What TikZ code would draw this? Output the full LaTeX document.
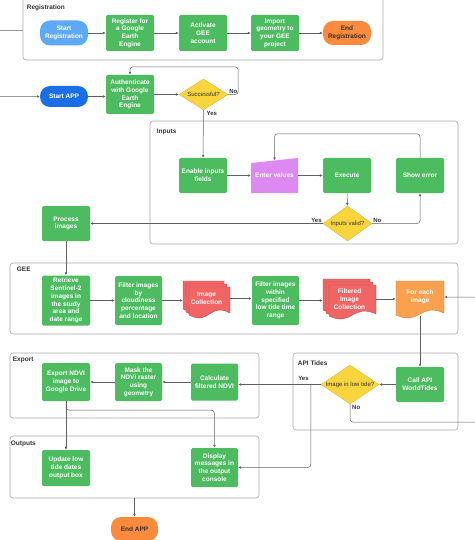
\documentclass[tikz,border=0pt]{standalone}
\usepackage{fontspec}
\setmainfont{Liberation Sans}
\usetikzlibrary{shapes.geometric, arrows.meta, positioning, calc}

\definecolor{boxgreen}{HTML}{4DBB5F}
\definecolor{startblue}{HTML}{5EA9F6}
\definecolor{appblue}{HTML}{1A6FE4}
\definecolor{endorange}{HTML}{FB8B3C}
\definecolor{docorange}{HTML}{F9A14F}
\definecolor{collred}{HTML}{F16565}
\definecolor{inputpurple}{HTML}{DC8AF2}
\definecolor{decyellow}{HTML}{F9D53D}
\definecolor{framegray}{HTML}{ABABAB}
\definecolor{linegray}{HTML}{606060}
\definecolor{labelgray}{HTML}{333333}

% document shape with a wavy bottom edge
\newcommand{\docshape}[5]{%
  \filldraw[#1] ({#2},{#3}) -- ({#4},{#3}) -- ({#4},{#5-5})
    .. controls ({(#2+#4)/2},{#5-16}) and ({(#2+#4)/2},{#5+8}) .. ({#2},{#5-3}) -- cycle;}
% three stacked documents
\newcommand{\stackdoc}[5]{%
  \docshape{#1}{#2}{#3}{#4-6}{#5-6}
  \docshape{#1}{#2+3}{#3+3}{#4-3}{#5-3}
  \docshape{#1}{#2+6}{#3+6}{#4}{#5}}

\begin{document}
\begin{tikzpicture}[
    x=1pt, y=-1pt,
    % Define node styles
    panel/.style={
        rectangle,
        draw=framegray,
        fill=white,
        rounded corners=3pt,
        line width=0.6pt
    },
    frametitle/.style={
        font=\fontsize{6.5}{7.5}\selectfont\bfseries,
        text=labelgray,
        inner sep=0pt,
        anchor=north west
    },
    process/.style={
        rectangle,
        fill=boxgreen,
        rounded corners=1.5pt,
        text=white,
        font=\fontsize{6.5}{7.7}\selectfont\bfseries,
        align=center,
        minimum width=48pt,
        minimum height=36pt,
        inner sep=0pt
    },
    terminal/.style={
        process,
        rounded corners=10pt,
        minimum height=24pt
    },
    decision/.style={
        diamond,
        aspect=1.5,
        fill=decyellow,
        draw=decyellow!85!black,
        line width=0.3pt,
        text=labelgray,
        font=\fontsize{6}{7}\selectfont,
        inner sep=0pt
    },
    collection/.style={fill=collred, draw=collred!75!black, line width=0.4pt},
    foreachdoc/.style={fill=docorange, draw=docorange!80!black, line width=0.4pt},
    lbl/.style={font=\fontsize{6}{7}\selectfont\bfseries, text=labelgray, inner sep=1pt},
    flow/.style={draw=linegray, line width=0.5pt, rounded corners=3pt,
        -{Latex[length=3pt,width=2.6pt]}},
    flowthick/.style={flow, line width=1pt}
]
    \useasboundingbox (0,0) rectangle (474,540);

    % Registration
    \node[panel, minimum width=360pt, minimum height=63pt] (reg) at (203,28.5) {};
    \node[frametitle] (tReg) at ([shift={(4,8)}]reg.north west) {Registration};
    \node[terminal, fill=startblue, minimum height=25pt] (startreg) at (64,33) {Start\\Registration};
    \node[process] (register) at (130,33) {Register for\\a Google\\Earth\\Engine};
    \node[process] (activate) at (203,33) {Activate\\GEE\\account};
    \node[process] (importgeo) at (275,33) {Import\\geometry to\\your GEE\\project};
    \node[terminal, fill=endorange, text=labelgray] (endreg) at (347,33) {End\\Registration};

    % Authentication
    \node[terminal, fill=appblue, minimum height=21pt] (startapp) at (64,96.5) {Start APP};
    \node[process, minimum height=39pt] (auth) at (130,94.5) {Authenticate\\with Google\\Earth\\Engine};
    \node[decision, minimum width=49pt, minimum height=31pt,
        label={[lbl, anchor=south west]east:No},
        label={[lbl, anchor=north west, xshift=2pt]south:Yes}] (succ) at (203.5,94.5) {Successful?};

    % Inputs
    \node[panel, minimum width=308pt, minimum height=123pt] (inputs) at (304,182.5) {};
    \node[frametitle] (tInputs) at ([shift={(7,8)}]inputs.north west) {Inputs};
    \node[process, minimum height=35pt] (enable) at (203,175.5) {Enable inputs\\fields};
    \fill[inputpurple] (251,163) -- (298,158) -- (298,193) -- (251,193) -- cycle;
    \node[process, fill=none, minimum width=47pt, minimum height=35pt] (enter) at (274.5,175.5) {Enter values};
    \node[process, minimum height=35pt] (exec) at (347,175.5) {Execute};
    \node[process, minimum height=35pt] (showerr) at (420,175.5) {Show error};
    \node[decision, minimum width=49pt, minimum height=35pt,
        label={[lbl, anchor=south east]west:Yes},
        label={[lbl, anchor=south west]east:No}] (valid) at (347.5,223.5) {Inputs valid?};
    \node[process, minimum height=35pt] (procimg) at (66,223.5) {Process\\images};

    % GEE
    \node[panel, minimum width=448pt, minimum height=71pt] (gee) at (234,298.5) {};
    \node[frametitle] (tGee) at ([shift={(7,4)}]gee.north west) {GEE};
    \node[process, minimum height=50pt] (retrieve) at (66,300.5) {Retrieve\\Sentinel-2\\images in\\the study\\area and\\date range};
    \node[process, minimum width=47pt, minimum height=49pt] (filtcloud) at (138.5,300.5) {Filter images\\by\\cloudiness\\percentage\\and location};
    \stackdoc{collection}{183}{281}{230}{318}
    \node[process, fill=none, minimum width=47pt, minimum height=37pt] (imgcoll) at (206.5,298.5) {Image\\Collection};
    \node[process, minimum width=47pt, minimum height=49pt] (filttide) at (275.5,300.5) {Filter images\\within\\specified\\low tide time\\range};
    \stackdoc{collection}{323}{279}{376}{319}
    \node[process, fill=none, minimum width=53pt, minimum height=40pt] (filtcoll) at (349.5,299) {Filtered\\Image\\Collection};
    \docshape{foreachdoc}{396}{281}{444}{318}
    \node[process, fill=none, minimum height=37pt] (foreach) at (420,297) {For each\\image};

    % API Tides
    \node[panel, minimum width=165pt, minimum height=77pt] (api) at (375.5,391.5) {};
    \node[frametitle] (tApi) at ([shift={(5,8)}]api.north west) {API Tides};
    \node[process, minimum height=35pt] (callapi) at (420,384.5) {Call API\\WorldTides};
    \node[decision, minimum width=58pt, minimum height=39pt,
        label={[lbl, anchor=south east, xshift=-11pt, yshift=3pt]west:Yes},
        label={[lbl, anchor=north west, xshift=1pt]south:No}] (lowtide) at (350,384.5) {Image in low tide?};

    % Export
    \node[panel, minimum width=249pt, minimum height=65pt] (export) at (134.5,385.5) {};
    \node[frametitle] (tExport) at ([shift={(3,4)}]export.north west) {Export};
    \node[process, minimum height=38pt] (exportndvi) at (66,382) {Export NDVI\\image to\\Google Drive};
    \node[process, minimum width=47pt, minimum height=38pt] (mask) at (138.5,382) {Mask the\\NDVI raster\\using\\geometry};
    \node[process, minimum width=47pt, minimum height=37pt] (calc) at (214.5,382) {Calculate\\filtered NDVI};

    % Outputs
    \node[panel, minimum width=249pt, minimum height=62pt] (outputs) at (134.5,467) {};
    \node[frametitle] (tOutputs) at ([shift={(1,5)}]outputs.north west) {Outputs};
    \node[process, minimum height=36pt] (update) at (66,468) {Update low\\tide dates\\output box};
    \node[process, minimum width=47pt, minimum height=39pt] (display) at (214.5,467.5) {Display\\messages in\\the output\\console};
    \node[terminal, fill=endorange, text=labelgray, minimum width=47pt] (endapp) at (134.5,529) {End APP};

    % Registration flow
    \draw[flow] (startreg) -- (register);
    \draw[flow] (register) -- (activate);
    \draw[flow] (activate) -- (importgeo);
    \draw[flow] (importgeo) -- (endreg);
    \draw[flow] ([yshift=-2pt]reg.west) -- ++(-30,0) |- (startapp.west);

    % Authentication flow
    \draw[flow] (startapp) -- (startapp -| auth.west);
    \draw[flow] (auth) -- (succ);
    \draw[flow] (succ.east) -- ++(10,0) |- ([yshift=8pt]auth.north) -- (auth.north);
    \draw[flow] (succ) -- (enable);

    % Inputs flow
    \draw[flow] (enable) -- (enter);
    \draw[flow] (enter) -- (exec);
    \draw[flow] (exec) -- (valid);
    \draw[flow] (valid.east) -| (showerr.south);
    \draw[flow] (showerr.north) |- ([yshift=24pt]enter.north) -- ([yshift=-2.5pt]enter.north);
    \draw[flow] (valid.west) -- (valid.west -| procimg.east);
    \draw[flow] (procimg) -- (retrieve);

    % GEE flow
    \draw[flow] (retrieve) -- (filtcloud);
    \draw[flow] (filtcloud.east) -- (filtcloud.east -| imgcoll.west);
    \draw[flowthick] (imgcoll.east) -- (imgcoll.east -| filttide.west);
    \draw[flow] (filttide.east) -- (filttide.east -| filtcoll.west);
    \draw[flowthick] (filtcoll.east) -- (filtcoll.east -| foreach.west);
    \draw[flow] (foreach.south) -- (callapi);

    % API Tides flow
    \draw[flow] (callapi) -- (lowtide);
    \draw[flow] (lowtide.south) -- ++(0,18) -- ++(131,0) |- (foreach.east);
    \draw[flow] (lowtide.west) -- (lowtide.west -| calc.east);
    \draw[flow] ([xshift=-10pt]lowtide.west) |- (display.east);

    % Export and outputs flow
    \draw[flow] (calc) -- (mask);
    \draw[flow] (mask) -- (exportndvi);
    \draw[flow] (exportndvi) -- (update);
    \draw[flow] (exportndvi.south) -- ++(0,9) -| (display.north);
    \draw[flow] (outputs) -- (endapp);
\end{tikzpicture}
\end{document}
